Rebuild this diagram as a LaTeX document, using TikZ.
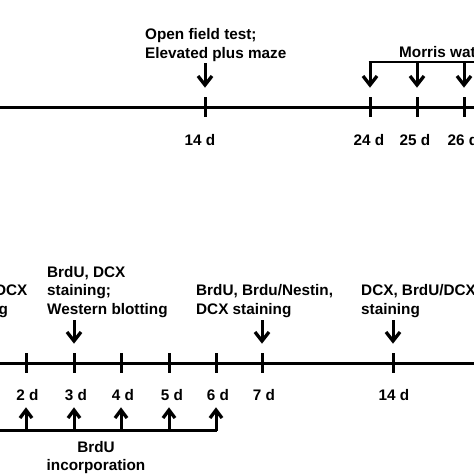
\documentclass[tikz,border=0pt]{standalone}
\usepackage{fontspec}
\setmainfont{Liberation Sans}
\begin{document}
\begin{tikzpicture}[x=1pt,y=-1pt,
  lbl/.style={font=\fontsize{15.3}{18.5}\selectfont\bfseries, inner sep=0pt, anchor=base west},
  lblc/.style={font=\fontsize{15.3}{18.5}\selectfont\bfseries, inner sep=0pt, anchor=base},
  axis/.style={line width=3pt},
  tickmark/.style={line width=3pt},
  shaft/.style={line width=3pt},
  chev/.style={line width=3.3pt, miter limit=10},
  bracket/.style={line width=2.8pt}]
\useasboundingbox (0,0) rectangle (474,474);
\clip (0,0) rectangle (474,474);

% ---------- top timeline ----------
\coordinate (ta) at (-10,107);
\coordinate (tb) at (490,107);
\draw[axis] (ta) -- (tb);
\foreach \n/\x in {t14/205,t24/370,t25/417,t26/464}{
  \coordinate (\n) at (\x,107);
  \draw[tickmark] ([yshift=10pt]\n) -- ([yshift=-10pt]\n);
}
\node[lblc] (l14) at (200,145) {14 d};
\node[lblc] (l24) at (369,145) {24 d};
\node[lblc] (l25) at (415,145) {25 d};
\node[lblc] (l26) at (463,145) {26 d};

\node[lbl] (of1) at (145,39.5) {Open field test;};
\node[lbl] (of2) at (145,58.3) {Elevated plus maze};

\node[lbl] (mw) at (399,57.5) {Morris water maze};
\coordinate (mb0) at (368.5,62);
\coordinate (mb1) at (490,62);
\draw[bracket] (mb0) -- (mb1);

% down arrows (start / tip)
\foreach \n/\x/\ys/\ye in {s14/205/63/85, m24/370/62/85, m25/417/62/85, m26/464/62/85,
                           a3/74/320/341, a7/262/320/341, a14/393/320/341}{
  \coordinate (\n s) at (\x,\ys);
  \coordinate (\n e) at (\x,\ye);
  \draw[shaft] (\n s) -- (\n e);
  \draw[chev] ([xshift=-7pt,yshift=9pt]\n e) -- (\n e) -- ([xshift=7pt,yshift=9pt]\n e);
}

% ---------- bottom timeline ----------
\coordinate (ba) at (-10,363);
\coordinate (bb) at (490,363);
\draw[axis] (ba) -- (bb);
\foreach \n/\x in {b1/-21,b2/26,b3/74,b4/121,b5/169,b6/216,b7/262,b14/393}{
  \coordinate (\n) at (\x,363);
  \draw[tickmark] ([yshift=10pt]\n) -- ([yshift=-10pt]\n);
}
\node[lblc] (d2) at (27.5,400.5) {2 d};
\node[lblc] (d3) at (76,400.5) {3 d};
\node[lblc] (d4) at (123,400.5) {4 d};
\node[lblc] (d5) at (172,400.5) {5 d};
\node[lblc] (d6) at (218,400.5) {6 d};
\node[lblc] (d7) at (264,400.5) {7 d};
\node[lblc] (d14) at (394,400.5) {14 d};

% annotations above
\node[lbl] (c1a) at (-51,295.5) {BrdU, DCX};
\node[lbl] (c1b) at (-51,314) {staining};
\node[lbl] (c3a) at (47,277) {BrdU, DCX};
\node[lbl] (c3b) at (47,295.5) {staining;};
\node[lbl] (c3c) at (47,314) {Western blotting};
\node[lbl] (c7a) at (196,295.5) {BrdU, Brdu/Nestin,};
\node[lbl] (c7b) at (196,314) {DCX staining};
\node[lbl] (c14a) at (361,295.5) {DCX, BrdU/DCX};
\node[lbl] (c14b) at (361,314) {staining};

% BrdU incorporation bracket
\coordinate (ib0) at (-30,430.5);
\coordinate (ib1) at (217.4,430.5);
\draw[bracket] (ib0) -- (ib1);
\foreach \n/\x in {u1/-21,u2/26,u3/74,u4/121,u5/169,u6/216}{
  \coordinate (\n s) at (\x,430.5);
  \coordinate (\n e) at (\x,410);
  \draw[shaft] (\n s) -- (\n e);
  \draw[chev] ([xshift=-6pt,yshift=-8pt]\n e) -- (\n e) -- ([xshift=6pt,yshift=-8pt]\n e);
}
\node[lblc] (bi1) at (96,452) {BrdU};
\node[lblc] (bi2) at (96,470.5) {incorporation};
\end{tikzpicture}
\end{document}
